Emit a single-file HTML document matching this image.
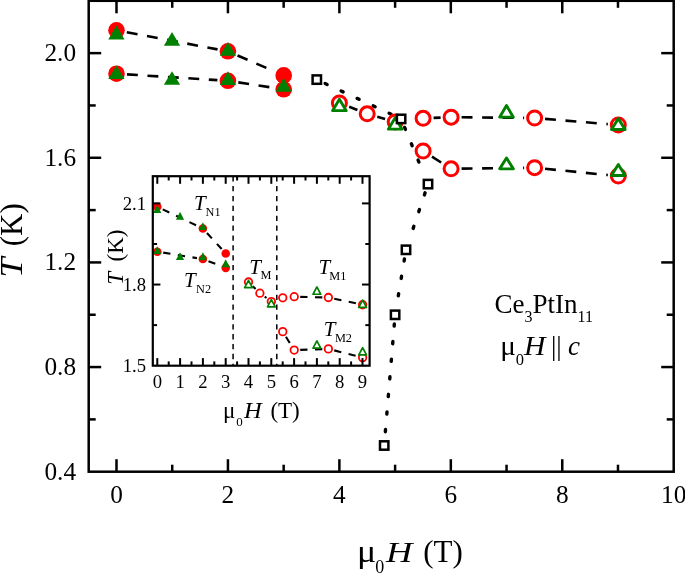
<!DOCTYPE html>
<html><head><meta charset="utf-8"><title>Ce3PtIn11 phase diagram</title>
<style>html,body{margin:0;padding:0;background:#fff;}svg{display:block;}text{font-family:"Liberation Serif",serif;fill:#000;}</style>
</head><body>
<svg width="685" height="574" viewBox="0 0 685 574">
<rect width="685" height="574" fill="#fff"/>
<rect x="88.7" y="0.8" width="585" height="470.9" fill="none" stroke="#000" stroke-width="2.5"/>
<line x1="116.5" y1="471.7" x2="116.5" y2="459.2" stroke="#000" stroke-width="2.5" />
<line x1="116.5" y1="0.8" x2="116.5" y2="13.3" stroke="#000" stroke-width="2.5" />
<line x1="172.22" y1="471.7" x2="172.22" y2="464.7" stroke="#000" stroke-width="2.5" />
<line x1="172.22" y1="0.8" x2="172.22" y2="7.8" stroke="#000" stroke-width="2.5" />
<line x1="227.94" y1="471.7" x2="227.94" y2="459.2" stroke="#000" stroke-width="2.5" />
<line x1="227.94" y1="0.8" x2="227.94" y2="13.3" stroke="#000" stroke-width="2.5" />
<line x1="283.66" y1="471.7" x2="283.66" y2="464.7" stroke="#000" stroke-width="2.5" />
<line x1="283.66" y1="0.8" x2="283.66" y2="7.8" stroke="#000" stroke-width="2.5" />
<line x1="339.38" y1="471.7" x2="339.38" y2="459.2" stroke="#000" stroke-width="2.5" />
<line x1="339.38" y1="0.8" x2="339.38" y2="13.3" stroke="#000" stroke-width="2.5" />
<line x1="395.1" y1="471.7" x2="395.1" y2="464.7" stroke="#000" stroke-width="2.5" />
<line x1="395.1" y1="0.8" x2="395.1" y2="7.8" stroke="#000" stroke-width="2.5" />
<line x1="450.82" y1="471.7" x2="450.82" y2="459.2" stroke="#000" stroke-width="2.5" />
<line x1="450.82" y1="0.8" x2="450.82" y2="13.3" stroke="#000" stroke-width="2.5" />
<line x1="506.54" y1="471.7" x2="506.54" y2="464.7" stroke="#000" stroke-width="2.5" />
<line x1="506.54" y1="0.8" x2="506.54" y2="7.8" stroke="#000" stroke-width="2.5" />
<line x1="562.26" y1="471.7" x2="562.26" y2="459.2" stroke="#000" stroke-width="2.5" />
<line x1="562.26" y1="0.8" x2="562.26" y2="13.3" stroke="#000" stroke-width="2.5" />
<line x1="617.98" y1="471.7" x2="617.98" y2="464.7" stroke="#000" stroke-width="2.5" />
<line x1="617.98" y1="0.8" x2="617.98" y2="7.8" stroke="#000" stroke-width="2.5" />
<line x1="88.7" y1="419.38" x2="95.7" y2="419.38" stroke="#000" stroke-width="2.5" />
<line x1="673.7" y1="419.38" x2="666.7" y2="419.38" stroke="#000" stroke-width="2.5" />
<line x1="88.7" y1="367.06" x2="101.2" y2="367.06" stroke="#000" stroke-width="2.5" />
<line x1="673.7" y1="367.06" x2="661.2" y2="367.06" stroke="#000" stroke-width="2.5" />
<line x1="88.7" y1="314.74" x2="95.7" y2="314.74" stroke="#000" stroke-width="2.5" />
<line x1="673.7" y1="314.74" x2="666.7" y2="314.74" stroke="#000" stroke-width="2.5" />
<line x1="88.7" y1="262.42" x2="101.2" y2="262.42" stroke="#000" stroke-width="2.5" />
<line x1="673.7" y1="262.42" x2="661.2" y2="262.42" stroke="#000" stroke-width="2.5" />
<line x1="88.7" y1="210.1" x2="95.7" y2="210.1" stroke="#000" stroke-width="2.5" />
<line x1="673.7" y1="210.1" x2="666.7" y2="210.1" stroke="#000" stroke-width="2.5" />
<line x1="88.7" y1="157.78" x2="101.2" y2="157.78" stroke="#000" stroke-width="2.5" />
<line x1="673.7" y1="157.78" x2="661.2" y2="157.78" stroke="#000" stroke-width="2.5" />
<line x1="88.7" y1="105.46" x2="95.7" y2="105.46" stroke="#000" stroke-width="2.5" />
<line x1="673.7" y1="105.46" x2="666.7" y2="105.46" stroke="#000" stroke-width="2.5" />
<line x1="88.7" y1="53.14" x2="101.2" y2="53.14" stroke="#000" stroke-width="2.5" />
<line x1="673.7" y1="53.14" x2="661.2" y2="53.14" stroke="#000" stroke-width="2.5" />
<text x="116.5" y="502.8" font-size="25.3" text-anchor="middle">0</text>
<text x="227.94" y="502.8" font-size="25.3" text-anchor="middle">2</text>
<text x="339.38" y="502.8" font-size="25.3" text-anchor="middle">4</text>
<text x="450.82" y="502.8" font-size="25.3" text-anchor="middle">6</text>
<text x="562.26" y="502.8" font-size="25.3" text-anchor="middle">8</text>
<text x="673.7" y="502.8" font-size="25.3" text-anchor="middle">10</text>
<text x="76.1" y="479.7" font-size="25.3" text-anchor="end">0.4</text>
<text x="76.1" y="375.06" font-size="25.3" text-anchor="end">0.8</text>
<text x="76.1" y="270.42" font-size="25.3" text-anchor="end">1.2</text>
<text x="76.1" y="165.78" font-size="25.3" text-anchor="end">1.6</text>
<text x="76.1" y="61.14" font-size="25.3" text-anchor="end">2.0</text>
<text transform="translate(357,562.3) scale(1.16,1)" font-size="31">μ</text>
<text transform="translate(375.2,572.8)" font-size="18">0</text>
<text transform="translate(386,562.3) scale(1.235,1)" font-size="29.6" font-style="italic">H</text>
<text transform="translate(423.3,562.3)" font-size="31">(T)</text>
<text transform="translate(22.2,277.75) rotate(-90) scale(1.17,1)" font-size="31" font-style="italic">T</text>
<text transform="translate(22.2,246.2) rotate(-90)" font-size="31">(K)</text>
<text x="494.6" y="312.7" font-size="27">Ce<tspan font-size="16" dy="9.6">3</tspan><tspan dy="-9.6">PtIn</tspan><tspan font-size="16" dy="9.6">11</tspan></text>
<text transform="translate(500.2,355.1) scale(1.08,1)" font-size="27">μ</text>
<text transform="translate(515.8,364.6)" font-size="16.5">0</text>
<text transform="translate(523.9,355.1) scale(1.1,1)" font-size="27" font-style="italic">H</text>
<text transform="translate(550.9,355.1)" font-size="27">||</text>
<text transform="translate(568,355.1)" font-size="27" font-style="italic">c</text>
<line x1="126.82" y1="32.25" x2="217.58" y2="49.35" stroke="#000" stroke-width="2.6" stroke-dasharray="10.9 9.6"/>
<line x1="237.54" y1="55.46" x2="274.06" y2="71.24" stroke="#000" stroke-width="2.6" stroke-dasharray="10.9 9.6"/>
<line x1="126.98" y1="74.37" x2="217.42" y2="80.13" stroke="#000" stroke-width="2.6" stroke-dasharray="10.9 9.6"/>
<line x1="238.28" y1="82.38" x2="273.32" y2="87.72" stroke="#000" stroke-width="2.6" stroke-dasharray="10.9 9.6"/>
<line x1="349.19" y1="106.8" x2="357.41" y2="110" stroke="#000" stroke-width="2.6" stroke-dasharray="10.9 9.6"/>
<line x1="377.29" y1="116.72" x2="385.11" y2="118.98" stroke="#000" stroke-width="2.6" stroke-dasharray="10.9 9.6"/>
<line x1="433.59" y1="117.89" x2="440.61" y2="117.61" stroke="#000" stroke-width="2.6" stroke-dasharray="10.9 9.6"/>
<line x1="461.6" y1="117.3" x2="524.1" y2="117.9" stroke="#000" stroke-width="2.6" stroke-dasharray="10.9 9.6"/>
<line x1="545.06" y1="118.88" x2="607.84" y2="124.12" stroke="#000" stroke-width="2.6" stroke-dasharray="10.9 9.6"/>
<line x1="431.96" y1="156.63" x2="442.24" y2="163.17" stroke="#000" stroke-width="2.6" stroke-dasharray="10.9 9.6"/>
<line x1="461.6" y1="168.66" x2="524.1" y2="167.84" stroke="#000" stroke-width="2.6" stroke-dasharray="10.9 9.6"/>
<line x1="545.05" y1="168.75" x2="607.85" y2="175.05" stroke="#000" stroke-width="2.6" stroke-dasharray="10.9 9.6"/>
<line x1="325.14" y1="83.49" x2="391.58" y2="114.46" stroke="#000" stroke-width="3.4" stroke-dasharray="2.2 15.45" stroke-linecap="round"/>
<line x1="404.61" y1="127.4" x2="424" y2="174.39" stroke="#000" stroke-width="3.4" stroke-dasharray="2.2 15.45" stroke-linecap="round"/>
<line x1="425.08" y1="192.82" x2="409.33" y2="239.84" stroke="#000" stroke-width="3.4" stroke-dasharray="2.2 15.45" stroke-linecap="round"/>
<line x1="404.48" y1="258.87" x2="396.84" y2="304.44" stroke="#000" stroke-width="3.4" stroke-dasharray="2.2 15.45" stroke-linecap="round"/>
<line x1="394.34" y1="323.97" x2="385.07" y2="435.04" stroke="#000" stroke-width="3.4" stroke-dasharray="2.2 15.45" stroke-linecap="round"/>
<circle cx="116.5" cy="30.3" r="8.3" fill="#f00"/>
<circle cx="227.9" cy="51.3" r="8.3" fill="#f00"/>
<circle cx="283.7" cy="75.4" r="8.3" fill="#f00"/>
<circle cx="116.5" cy="73.7" r="8.3" fill="#f00"/>
<circle cx="227.9" cy="80.8" r="8.3" fill="#f00"/>
<circle cx="283.7" cy="89.3" r="8.3" fill="#f00"/>
<polygon points="116.4,25.4 124.55,39.4 108.25,39.4" fill="#008000"/>
<polygon points="172,32 180.15,45.8 163.85,45.8" fill="#008000"/>
<polygon points="227.9,42.1 236.05,55.7 219.75,55.7" fill="#008000"/>
<polygon points="116.4,65.4 124.55,79 108.25,79" fill="#008000"/>
<polygon points="172,71.3 180.15,84.7 163.85,84.7" fill="#008000"/>
<polygon points="227.9,71.3 236.05,84.9 219.75,84.9" fill="#008000"/>
<polygon points="283.6,78 291.75,91.7 275.45,91.7" fill="#008000"/>
<circle cx="339.4" cy="103" r="7.0" fill="#fff" stroke="#f00" stroke-width="3.0"/>
<circle cx="367.2" cy="113.8" r="7.0" fill="#fff" stroke="#f00" stroke-width="3.0"/>
<circle cx="395.2" cy="121.9" r="7.0" fill="#fff" stroke="#f00" stroke-width="3.0"/>
<circle cx="423.1" cy="118.3" r="7.0" fill="#fff" stroke="#f00" stroke-width="3.0"/>
<circle cx="451.1" cy="117.2" r="7.0" fill="#fff" stroke="#f00" stroke-width="3.0"/>
<circle cx="534.6" cy="118" r="7.0" fill="#fff" stroke="#f00" stroke-width="3.0"/>
<circle cx="618.3" cy="125" r="7.0" fill="#fff" stroke="#f00" stroke-width="3.0"/>
<circle cx="423.1" cy="151" r="7.0" fill="#fff" stroke="#f00" stroke-width="3.0"/>
<circle cx="451.1" cy="168.8" r="7.0" fill="#fff" stroke="#f00" stroke-width="3.0"/>
<circle cx="534.6" cy="167.7" r="7.0" fill="#fff" stroke="#f00" stroke-width="3.0"/>
<circle cx="618.3" cy="176.1" r="7.0" fill="#fff" stroke="#f00" stroke-width="3.0"/>
<polygon points="339.4,99.35 346.25,110.65 332.55,110.65" fill="#fff" stroke="#008000" stroke-width="2.9" stroke-linejoin="round"/>
<polygon points="395.2,117.85 402.05,129.15 388.35,129.15" fill="#fff" stroke="#008000" stroke-width="2.9" stroke-linejoin="round"/>
<polygon points="506.5,105.45 513.35,117.15 499.65,117.15" fill="#fff" stroke="#008000" stroke-width="2.9" stroke-linejoin="round"/>
<polygon points="618.3,118.65 625.15,129.45 611.45,129.45" fill="#fff" stroke="#008000" stroke-width="2.9" stroke-linejoin="round"/>
<polygon points="506.5,158.05 513.35,168.85 499.65,168.85" fill="#fff" stroke="#008000" stroke-width="2.9" stroke-linejoin="round"/>
<polygon points="618.3,164.45 625.15,175.55 611.45,175.55" fill="#fff" stroke="#008000" stroke-width="2.9" stroke-linejoin="round"/>
<rect x="312.6" y="75.4" width="8.4" height="8.4" fill="#fff" stroke="#000" stroke-width="2.5"/>
<rect x="396.9" y="114.7" width="8.4" height="8.4" fill="#fff" stroke="#000" stroke-width="2.5"/>
<rect x="423.8" y="179.9" width="8.4" height="8.4" fill="#fff" stroke="#000" stroke-width="2.5"/>
<rect x="401.8" y="245.6" width="8.4" height="8.4" fill="#fff" stroke="#000" stroke-width="2.5"/>
<rect x="390.9" y="310.6" width="8.4" height="8.4" fill="#fff" stroke="#000" stroke-width="2.5"/>
<rect x="380" y="441.3" width="8.4" height="8.4" fill="#fff" stroke="#000" stroke-width="2.5"/>
<rect x="152.8" y="176.2" width="216.8" height="189.5" fill="#fff" stroke="none"/>
<line x1="233.1" y1="176.2" x2="233.1" y2="365.7" stroke="#000" stroke-width="1.5" stroke-dasharray="5.3 4.57"/>
<line x1="276.8" y1="176.2" x2="276.8" y2="365.7" stroke="#000" stroke-width="1.5" stroke-dasharray="5.3 4.57"/>
<line x1="162.72" y1="209.41" x2="197.47" y2="225.97" stroke="#000" stroke-width="2.1" stroke-dasharray="7.3 7.5"/>
<line x1="206.94" y1="232.97" x2="221.66" y2="249.04" stroke="#000" stroke-width="2.1" stroke-dasharray="7.3 7.5"/>
<line x1="163.22" y1="252.66" x2="196.96" y2="258.1" stroke="#000" stroke-width="2.1" stroke-dasharray="7.3 7.5"/>
<line x1="208.48" y1="261.21" x2="220.12" y2="265.68" stroke="#000" stroke-width="2.1" stroke-dasharray="7.3 7.5"/>
<line x1="252.79" y1="286.21" x2="255.6" y2="288.97" stroke="#000" stroke-width="2.1" stroke-dasharray="7.3 7.5"/>
<line x1="264.73" y1="296.71" x2="266.5" y2="298.01" stroke="#000" stroke-width="2.1" stroke-dasharray="7.3 7.5"/>
<line x1="300.21" y1="296.83" x2="322.38" y2="297.37" stroke="#000" stroke-width="2.1" stroke-dasharray="7.3 7.5"/>
<line x1="334.25" y1="298.76" x2="356.76" y2="303.51" stroke="#000" stroke-width="2.1" stroke-dasharray="7.3 7.5"/>
<line x1="285.93" y1="336.73" x2="291.04" y2="344.95" stroke="#000" stroke-width="2.1" stroke-dasharray="7.3 7.5"/>
<line x1="300.21" y1="349.85" x2="322.39" y2="349.11" stroke="#000" stroke-width="2.1" stroke-dasharray="7.3 7.5"/>
<line x1="334.2" y1="350.38" x2="356.82" y2="356.12" stroke="#000" stroke-width="2.1" stroke-dasharray="7.3 7.5"/>
<circle cx="157.3" cy="206.83" r="4.3" fill="#f00"/>
<circle cx="202.88" cy="228.55" r="4.3" fill="#f00"/>
<circle cx="225.72" cy="253.47" r="4.3" fill="#f00"/>
<circle cx="157.3" cy="251.71" r="4.3" fill="#f00"/>
<circle cx="202.88" cy="259.05" r="4.3" fill="#f00"/>
<circle cx="225.72" cy="267.84" r="4.3" fill="#f00"/>
<polygon points="157.26,205.1 161.36,212.9 153.16,212.9" fill="#008000"/>
<polygon points="180.01,211.83 184.11,219.63 175.91,219.63" fill="#008000"/>
<polygon points="202.88,222.17 206.98,229.97 198.78,229.97" fill="#008000"/>
<polygon points="157.26,246.26 161.36,254.06 153.16,254.06" fill="#008000"/>
<polygon points="180.01,252.26 184.11,260.06 175.91,260.06" fill="#008000"/>
<polygon points="202.88,252.36 206.98,260.16 198.78,260.16" fill="#008000"/>
<polygon points="225.68,259.34 229.78,267.14 221.58,267.14" fill="#008000"/>
<circle cx="248.51" cy="282.01" r="3.75" fill="#fff" stroke="#f00" stroke-width="1.8"/>
<circle cx="259.88" cy="293.17" r="3.75" fill="#fff" stroke="#f00" stroke-width="1.8"/>
<circle cx="271.34" cy="301.55" r="3.75" fill="#fff" stroke="#f00" stroke-width="1.8"/>
<circle cx="282.76" cy="297.83" r="3.75" fill="#fff" stroke="#f00" stroke-width="1.8"/>
<circle cx="294.21" cy="296.69" r="3.75" fill="#fff" stroke="#f00" stroke-width="1.8"/>
<circle cx="328.38" cy="297.52" r="3.75" fill="#fff" stroke="#f00" stroke-width="1.8"/>
<circle cx="362.63" cy="304.75" r="3.75" fill="#fff" stroke="#f00" stroke-width="1.8"/>
<circle cx="282.76" cy="331.64" r="3.75" fill="#fff" stroke="#f00" stroke-width="1.8"/>
<circle cx="294.21" cy="350.04" r="3.75" fill="#fff" stroke="#f00" stroke-width="1.8"/>
<circle cx="328.38" cy="348.91" r="3.75" fill="#fff" stroke="#f00" stroke-width="1.8"/>
<circle cx="362.63" cy="357.59" r="3.75" fill="#fff" stroke="#f00" stroke-width="1.8"/>
<polygon points="248.51,280.42 252.36,287.72 244.66,287.72" fill="#fff" stroke="#008000" stroke-width="1.7" stroke-linejoin="round"/>
<polygon points="271.34,299.55 275.19,306.85 267.49,306.85" fill="#fff" stroke="#008000" stroke-width="1.7" stroke-linejoin="round"/>
<polygon points="316.88,286.94 320.73,294.24 313.03,294.24" fill="#fff" stroke="#008000" stroke-width="1.7" stroke-linejoin="round"/>
<polygon points="362.63,300.12 366.48,307.42 358.78,307.42" fill="#fff" stroke="#008000" stroke-width="1.7" stroke-linejoin="round"/>
<polygon points="316.88,340.86 320.73,348.16 313.03,348.16" fill="#fff" stroke="#008000" stroke-width="1.7" stroke-linejoin="round"/>
<polygon points="362.63,347.64 366.48,354.94 358.78,354.94" fill="#fff" stroke="#008000" stroke-width="1.7" stroke-linejoin="round"/>
<rect x="152.8" y="176.2" width="216.8" height="189.5" fill="none" stroke="#000" stroke-width="2.2"/>
<line x1="157.3" y1="365.7" x2="157.3" y2="358.1" stroke="#000" stroke-width="2.0" />
<line x1="157.3" y1="176.2" x2="157.3" y2="183.8" stroke="#000" stroke-width="2.0" />
<line x1="168.7" y1="365.7" x2="168.7" y2="361.4" stroke="#000" stroke-width="2.0" />
<line x1="168.7" y1="176.2" x2="168.7" y2="180.5" stroke="#000" stroke-width="2.0" />
<line x1="180.1" y1="365.7" x2="180.1" y2="358.1" stroke="#000" stroke-width="2.0" />
<line x1="180.1" y1="176.2" x2="180.1" y2="183.8" stroke="#000" stroke-width="2.0" />
<line x1="191.5" y1="365.7" x2="191.5" y2="361.4" stroke="#000" stroke-width="2.0" />
<line x1="191.5" y1="176.2" x2="191.5" y2="180.5" stroke="#000" stroke-width="2.0" />
<line x1="202.9" y1="365.7" x2="202.9" y2="358.1" stroke="#000" stroke-width="2.0" />
<line x1="202.9" y1="176.2" x2="202.9" y2="183.8" stroke="#000" stroke-width="2.0" />
<line x1="214.3" y1="365.7" x2="214.3" y2="361.4" stroke="#000" stroke-width="2.0" />
<line x1="214.3" y1="176.2" x2="214.3" y2="180.5" stroke="#000" stroke-width="2.0" />
<line x1="225.7" y1="365.7" x2="225.7" y2="358.1" stroke="#000" stroke-width="2.0" />
<line x1="225.7" y1="176.2" x2="225.7" y2="183.8" stroke="#000" stroke-width="2.0" />
<line x1="237.1" y1="365.7" x2="237.1" y2="361.4" stroke="#000" stroke-width="2.0" />
<line x1="237.1" y1="176.2" x2="237.1" y2="180.5" stroke="#000" stroke-width="2.0" />
<line x1="248.5" y1="365.7" x2="248.5" y2="358.1" stroke="#000" stroke-width="2.0" />
<line x1="248.5" y1="176.2" x2="248.5" y2="183.8" stroke="#000" stroke-width="2.0" />
<line x1="259.9" y1="365.7" x2="259.9" y2="361.4" stroke="#000" stroke-width="2.0" />
<line x1="259.9" y1="176.2" x2="259.9" y2="180.5" stroke="#000" stroke-width="2.0" />
<line x1="271.3" y1="365.7" x2="271.3" y2="358.1" stroke="#000" stroke-width="2.0" />
<line x1="271.3" y1="176.2" x2="271.3" y2="183.8" stroke="#000" stroke-width="2.0" />
<line x1="282.7" y1="365.7" x2="282.7" y2="361.4" stroke="#000" stroke-width="2.0" />
<line x1="282.7" y1="176.2" x2="282.7" y2="180.5" stroke="#000" stroke-width="2.0" />
<line x1="294.1" y1="365.7" x2="294.1" y2="358.1" stroke="#000" stroke-width="2.0" />
<line x1="294.1" y1="176.2" x2="294.1" y2="183.8" stroke="#000" stroke-width="2.0" />
<line x1="305.5" y1="365.7" x2="305.5" y2="361.4" stroke="#000" stroke-width="2.0" />
<line x1="305.5" y1="176.2" x2="305.5" y2="180.5" stroke="#000" stroke-width="2.0" />
<line x1="316.9" y1="365.7" x2="316.9" y2="358.1" stroke="#000" stroke-width="2.0" />
<line x1="316.9" y1="176.2" x2="316.9" y2="183.8" stroke="#000" stroke-width="2.0" />
<line x1="328.3" y1="365.7" x2="328.3" y2="361.4" stroke="#000" stroke-width="2.0" />
<line x1="328.3" y1="176.2" x2="328.3" y2="180.5" stroke="#000" stroke-width="2.0" />
<line x1="339.7" y1="365.7" x2="339.7" y2="358.1" stroke="#000" stroke-width="2.0" />
<line x1="339.7" y1="176.2" x2="339.7" y2="183.8" stroke="#000" stroke-width="2.0" />
<line x1="351.1" y1="365.7" x2="351.1" y2="361.4" stroke="#000" stroke-width="2.0" />
<line x1="351.1" y1="176.2" x2="351.1" y2="180.5" stroke="#000" stroke-width="2.0" />
<line x1="362.5" y1="365.7" x2="362.5" y2="358.1" stroke="#000" stroke-width="2.0" />
<line x1="362.5" y1="176.2" x2="362.5" y2="183.8" stroke="#000" stroke-width="2.0" />
<line x1="152.8" y1="325.12" x2="157.1" y2="325.12" stroke="#000" stroke-width="2.0" />
<line x1="369.6" y1="325.12" x2="365.3" y2="325.12" stroke="#000" stroke-width="2.0" />
<line x1="152.8" y1="284.55" x2="160.4" y2="284.55" stroke="#000" stroke-width="2.0" />
<line x1="369.6" y1="284.55" x2="362" y2="284.55" stroke="#000" stroke-width="2.0" />
<line x1="152.8" y1="243.97" x2="157.1" y2="243.97" stroke="#000" stroke-width="2.0" />
<line x1="369.6" y1="243.97" x2="365.3" y2="243.97" stroke="#000" stroke-width="2.0" />
<line x1="152.8" y1="203.4" x2="160.4" y2="203.4" stroke="#000" stroke-width="2.0" />
<line x1="369.6" y1="203.4" x2="362" y2="203.4" stroke="#000" stroke-width="2.0" />
<text x="157.3" y="387.9" font-size="18.7" text-anchor="middle">0</text>
<text x="180.1" y="387.9" font-size="18.7" text-anchor="middle">1</text>
<text x="202.9" y="387.9" font-size="18.7" text-anchor="middle">2</text>
<text x="225.7" y="387.9" font-size="18.7" text-anchor="middle">3</text>
<text x="248.5" y="387.9" font-size="18.7" text-anchor="middle">4</text>
<text x="271.3" y="387.9" font-size="18.7" text-anchor="middle">5</text>
<text x="294.1" y="387.9" font-size="18.7" text-anchor="middle">6</text>
<text x="316.9" y="387.9" font-size="18.7" text-anchor="middle">7</text>
<text x="339.7" y="387.9" font-size="18.7" text-anchor="middle">8</text>
<text x="362.5" y="387.9" font-size="18.7" text-anchor="middle">9</text>
<text x="146.0" y="372.2" font-size="18.7" text-anchor="end">1.5</text>
<text x="146.0" y="291.05" font-size="18.7" text-anchor="end">1.8</text>
<text x="146.0" y="209.9" font-size="18.7" text-anchor="end">2.1</text>
<text transform="translate(223,418.4)" font-size="23">μ</text>
<text transform="translate(236.35,425.5)" font-size="13">0</text>
<text transform="translate(244,418.4) scale(1.07,1)" font-size="23" font-style="italic">H</text>
<text transform="translate(270.4,418.4)" font-size="23">(T)</text>
<text transform="translate(122.6,284.8) rotate(-90)" font-size="23" font-style="italic">T</text>
<text transform="translate(122.6,261.4) rotate(-90)" font-size="23">(K)</text>
<text transform="translate(194,210.2)" font-size="21" font-style="italic">T</text>
<text transform="translate(205.5,216)" font-size="12.3">N1</text>
<text transform="translate(184,287)" font-size="21" font-style="italic">T</text>
<text transform="translate(196.1,292.8)" font-size="12.3">N2</text>
<text transform="translate(249.3,273.6)" font-size="21" font-style="italic">T</text>
<text transform="translate(260.4,279.4)" font-size="12.3">M</text>
<text transform="translate(318.4,274)" font-size="21" font-style="italic">T</text>
<text transform="translate(329.2,279.8)" font-size="12.3">M1</text>
<text transform="translate(323.8,336.3)" font-size="21" font-style="italic">T</text>
<text transform="translate(334.9,342.1)" font-size="12.3">M2</text>
</svg></body></html>
